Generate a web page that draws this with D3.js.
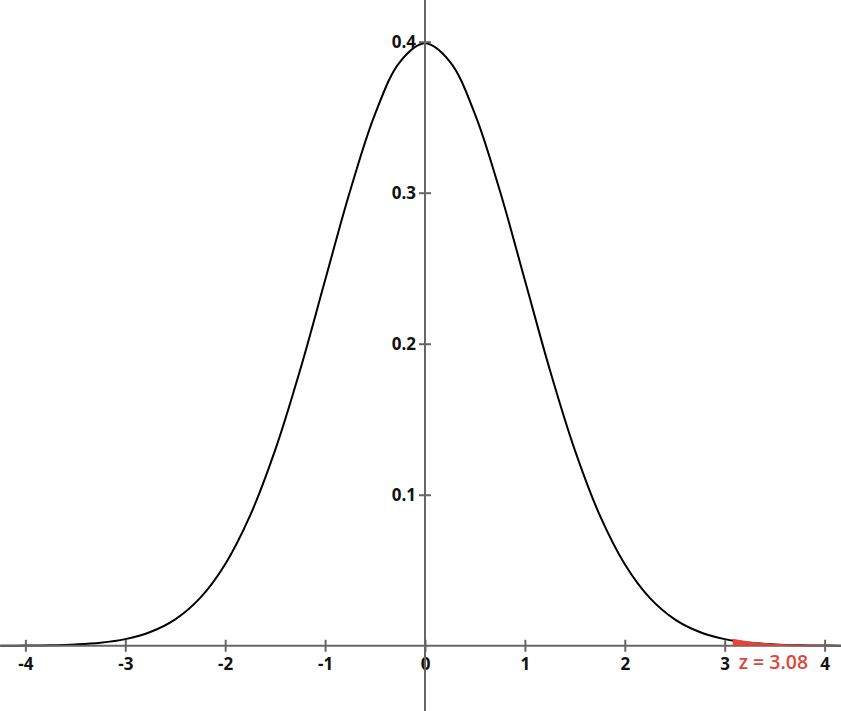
<!DOCTYPE html>
<html>
<head>
<meta charset="utf-8">
<script src="https://cdn.jsdelivr.net/npm/d3@7"></script>
<style>
  body { margin: 0; background: #fff; }
  .tick-label { font-family: "Open Sans", Lato, sans-serif; font-weight: 700; font-size: 17px; fill: #111; }
</style>
</head>
<body>
<svg width="841" height="711"></svg>
<script>
// standard normal curve
var zValues = [-4.25, -4, -3.75, -3.5, -3.25, -3, -2.75, -2.5, -2.25, -2, -1.75, -1.5, -1.25, -1, -0.75, -0.5, -0.25, 0,
               0.25, 0.5, 0.75, 1, 1.25, 1.5, 1.75, 2, 2.25, 2.5, 2.75, 3, 3.25, 3.5, 3.75, 4, 4.17];
var density = [0.00005, 0.00013, 0.00035, 0.0009, 0.002, 0.0044, 0.0091, 0.0175, 0.0317, 0.054, 0.0863, 0.1295, 0.1826, 0.242, 0.3011, 0.3521, 0.3867, 0.3989,
               0.3867, 0.3521, 0.3011, 0.242, 0.1826, 0.1295, 0.0863, 0.054, 0.0317, 0.0175, 0.0091, 0.0044, 0.002, 0.0009, 0.00035, 0.00013, 0.00007];

// shaded tail beyond z
var zCut = 3.08;
var tailZ = [3.08, 3.25, 3.5, 3.75, 4];
var tailDensity = [0.0046, 0.0028, 0.0014, 0.0007, 0.0003];

var xTicks = [-4, -3, -2, -1, 0, 1, 2, 3, 4];
var yTicks = [0.1, 0.2, 0.3, 0.4];

var svg = d3.select("svg"),
    width = +svg.attr("width"),
    height = +svg.attr("height");

var x = d3.scaleLinear().domain([-4.254, 4.164]).range([0, width]),
    y = d3.scaleLinear().domain([-0.0432, 0.4276]).range([height, 0]);

var curve = zValues.map(function(z, i) { return {z: z, p: density[i]}; });
var tail = tailZ.map(function(z, i) { return {z: z, p: tailDensity[i]}; });

// density curve
var line = d3.line()
    .x(function(d) { return x(d.z); })
    .y(function(d) { return y(d.p); })
    .curve(d3.curveCatmullRom);

svg.append("path")
    .datum(curve)
    .attr("d", line)
    .style("fill", "none")
    .style("stroke", "#000")
    .style("stroke-width", "2px");

// x axis
var xAxis = d3.axisBottom(x).tickValues(xTicks).tickSize(0).tickPadding(0).tickFormat(d3.format("d"));
var gx = svg.append("g")
    .attr("transform", "translate(0," + y(0) + ")")
    .call(xAxis);
gx.select(".domain").remove();
gx.append("line")
    .attr("x1", 0).attr("x2", width)
    .style("stroke", "#666").style("stroke-width", "2px");
gx.selectAll(".tick line").remove();
gx.selectAll(".tick").append("line")
    .attr("y1", -6).attr("y2", 6)
    .style("stroke", "#666").style("stroke-width", "2px");
gx.selectAll(".tick text")
    .attr("class", "tick-label")
    .attr("y", 24)
    .attr("dy", null)
    .text(function(d) { return String(d); });

// y axis
var yAxis = d3.axisLeft(y).tickValues(yTicks).tickSize(0).tickPadding(0).tickFormat(d3.format(".1f"));
var gy = svg.append("g")
    .attr("transform", "translate(" + x(0) + ",0)")
    .call(yAxis);
gy.select(".domain").remove();
gy.append("line")
    .attr("y1", 0).attr("y2", height)
    .style("stroke", "#666").style("stroke-width", "2px");
gy.selectAll(".tick line").remove();
gy.selectAll(".tick").append("line")
    .attr("x1", -6).attr("x2", 6)
    .style("stroke", "#666").style("stroke-width", "2px");
gy.selectAll(".tick text")
    .attr("class", "tick-label")
    .attr("x", -9)
    .attr("dy", "0.35em");

// red tail area, on top of the axis line
var area = d3.area()
    .x(function(d) { return x(d.z); })
    .y0(y(0))
    .y1(function(d) { return y(d.p); })
    .curve(d3.curveMonotoneX);

svg.append("path")
    .datum(tail)
    .attr("d", area)
    .style("fill", "#e0443a");

// z label
svg.append("text")
    .attr("x", x(zCut) + 6)
    .attr("y", y(0) + 23)
    .style("font-family", "'Open Sans', Lato, sans-serif")
    .style("font-weight", "600")
    .style("font-size", "19.5px")
    .style("fill", "#e0443a")
    .text("z = " + zCut);
</script>
</body>
</html>
